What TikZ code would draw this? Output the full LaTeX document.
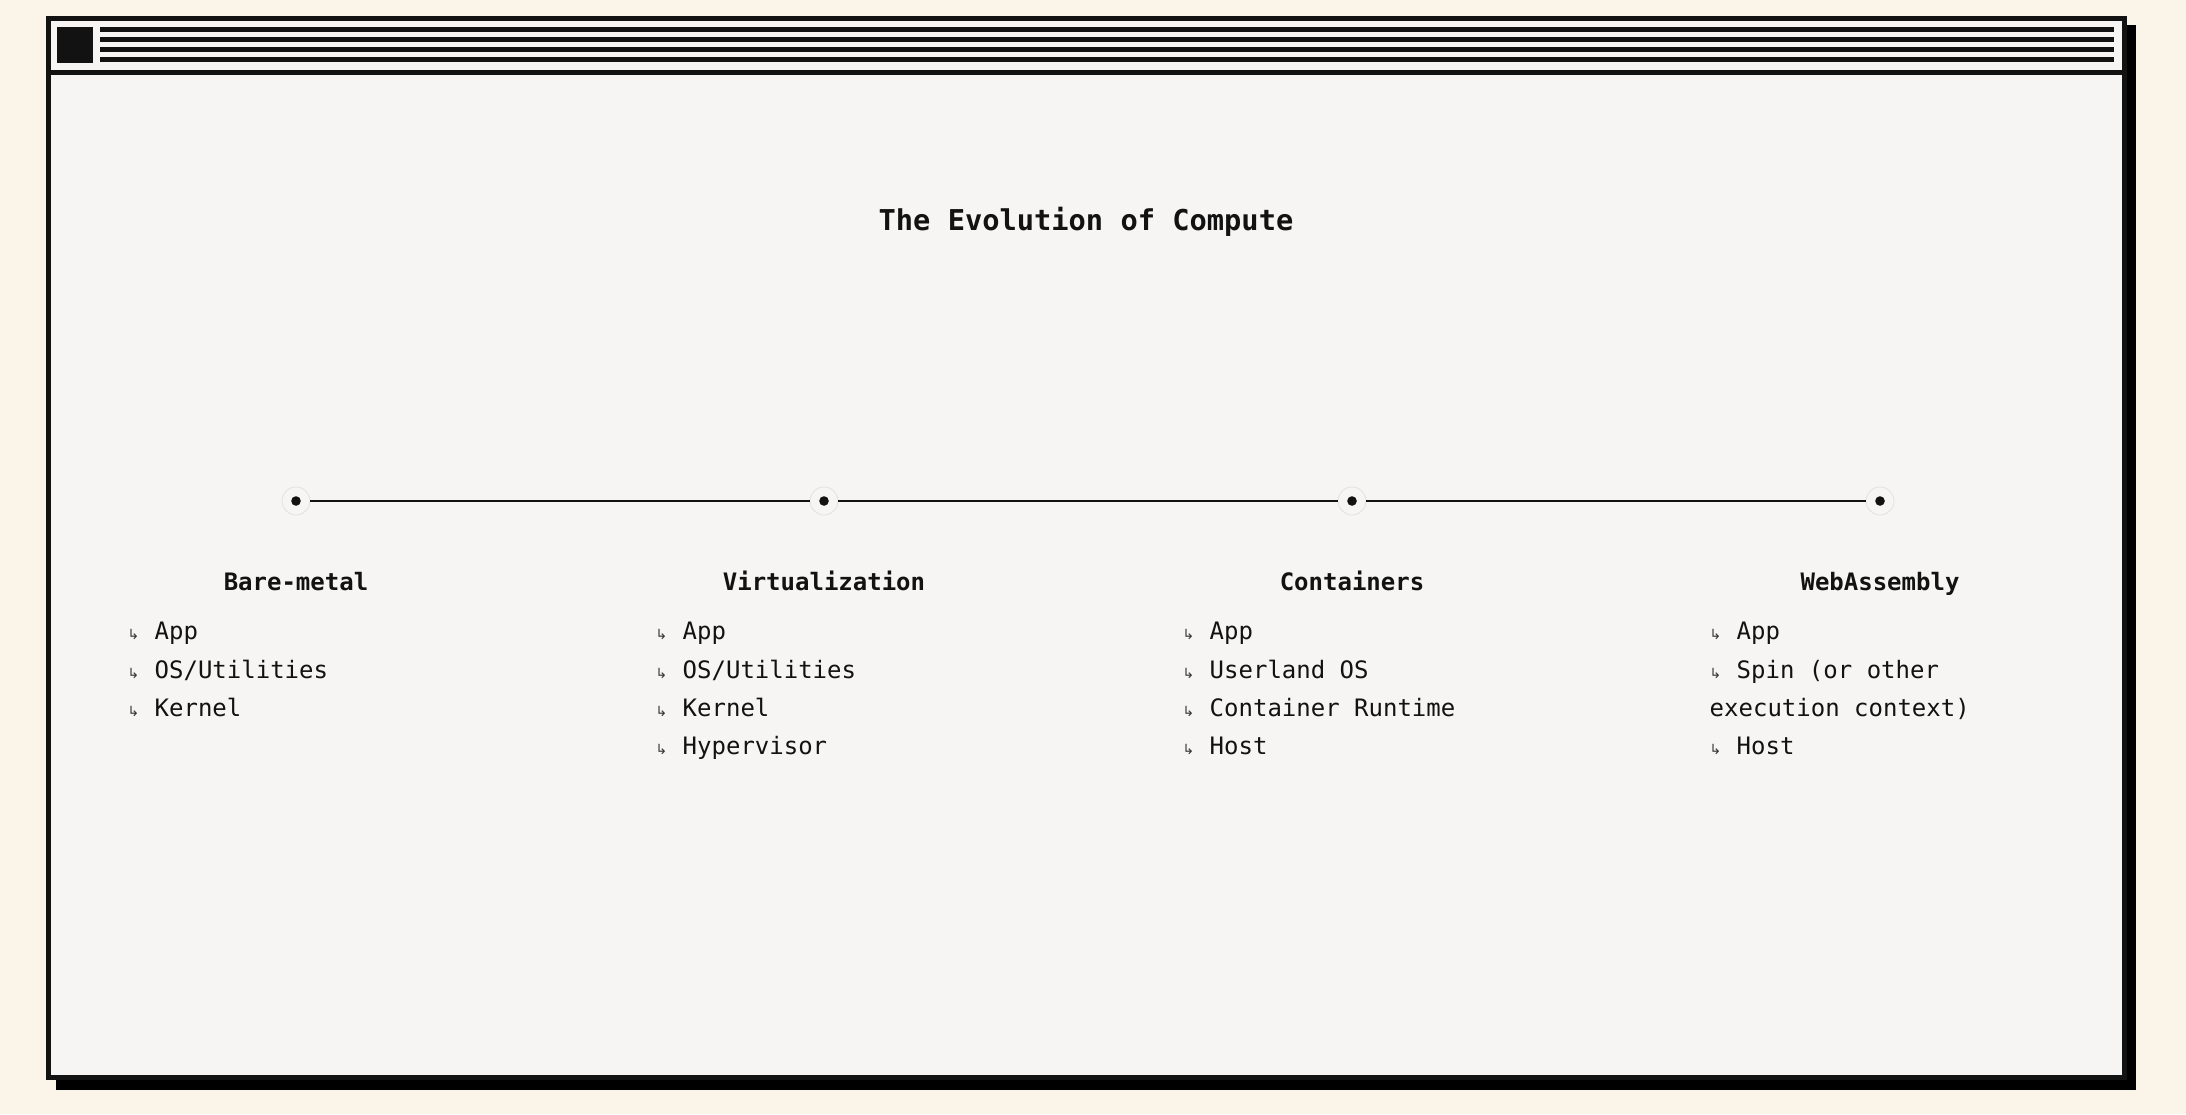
\documentclass[tikz,border=0pt]{standalone}
\usepackage{fontspec}
\setmainfont{DejaVu Sans Mono}
\newfontfamily\flechefont{DejaVu Sans}
\usepackage{tikz}
\usetikzlibrary{positioning, calc}
\usepackage{xcolor}
\definecolor{creme}{HTML}{FBF4E9}
\definecolor{papier}{HTML}{F6F5F3}
\definecolor{encre}{HTML}{121212}
\definecolor{anneau}{HTML}{DCDCDC}
\newcommand{\corps}{\fontsize{24}{38.3}\selectfont\spaceskip 14.45pt\relax\xspaceskip 14.45pt\relax}
\tikzstyle{point} = [circle, minimum size = 28pt, inner sep = 0pt, draw = anneau, line width = 0.6pt, fill = papier,
path picture = {\fill[encre] (path picture bounding box.center) circle (4.8pt);}]
\tikzstyle{titre} = [text = encre, inner sep = 0pt, text height = 18pt, text depth = 5pt, font = \fontsize{24}{29}\selectfont\bfseries]
\tikzstyle{liste} = [text = encre, anchor = north west, inner sep = 0pt, text width = 330pt, align = flush left, font = \corps]
\newcommand{\fl}{\rule{0pt}{24pt}\makebox[27pt][l]{\flechefont\fontsize{14}{14}\selectfont\color{encre!85}↳}}

\begin{document}
\begin{tikzpicture}[x = 1pt, y = -1pt, node distance = 528pt]

\fill[creme] (0,0) rectangle (2186,1114);
\useasboundingbox (0,0) rectangle (2186,1114);

% fenetre
\fill[black] (56,25) rectangle (2136,1090);
\draw[encre, line width = 5pt, fill = papier] (48.5,18.5) rectangle (2124.5,1077.5);
\draw[encre, line width = 5pt] (48.5,72.5) -- (2124.5,72.5);
\fill[encre] (57,27) rectangle (93,63);
\draw[encre, line width = 5pt] (100,29.5) -- (2114,29.5);
\draw[encre, line width = 5pt] (100,39.5) -- (2114,39.5);
\draw[encre, line width = 5pt] (100,49.5) -- (2114,49.5);
\draw[encre, line width = 5pt] (100,59.5) -- (2114,59.5);

\node (0) [titre, text height = 21pt, text depth = 6pt, font = \fontsize{28.7}{34}\selectfont\bfseries] at (1086,222.5) {The Evolution of Compute};

% frise
\node (1) [point] at (296,501) {};
\node (2) [point, right of = 1] {};
\node (3) [point, right of = 2] {};
\node (4) [point, right of = 3] {};

\draw[encre, line width = 2.4pt] (1) -- (2);
\draw[encre, line width = 2.4pt] (2) -- (3);
\draw[encre, line width = 2.4pt] (3) -- (4);

\node (5) [titre, node distance = 83pt, below of = 1] {Bare-metal};
\node (6) [titre, node distance = 83pt, below of = 2] {Virtualization};
\node (7) [titre, node distance = 83pt, below of = 3] {Containers};
\node (8) [titre, node distance = 83pt, below of = 4] {WebAssembly};

\node (9) [liste] at ($(1)+(-168.5,114.5)$)
{\fl App \\ \fl OS/Utilities \\ \fl Kernel};
\node (10) [liste] at ($(2)+(-168.5,114.5)$)
{\fl App \\ \fl OS/Utilities \\ \fl Kernel \\ \fl Hypervisor};
\node (11) [liste] at ($(3)+(-169.5,114.5)$)
{\fl App \\ \fl Userland OS \\ \fl Container Runtime \\ \fl Host};
\node (12) [liste] at ($(4)+(-170.5,114.5)$)
{\fl App \\ \fl Spin (or other \\ \rule{0pt}{24pt}execution context) \\ \fl Host};

\end{tikzpicture}
\end{document}
